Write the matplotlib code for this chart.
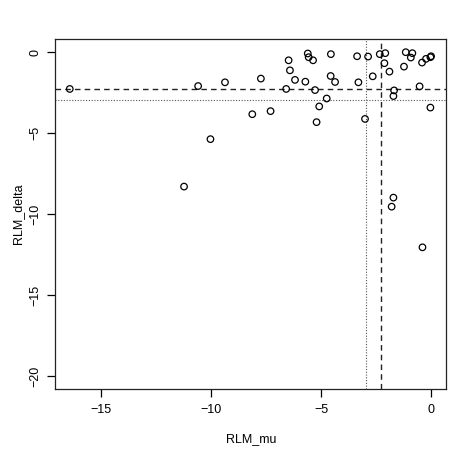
import numpy as np
import matplotlib
matplotlib.use("Agg")
import matplotlib.pyplot as plt

plt.rcParams['font.family'] = ['Liberation Sans', 'DejaVu Sans']

# RLM estimates
rlm_mu = [
    -16.41, -10.58, -9.36, -7.73, -8.12, -7.29, -10.02, -6.58, -6.47, -6.41,
    -6.18, -5.71, -5.60, -5.56, -5.36, -5.27, -5.08, -5.20, -4.74, -4.55,
    -4.56, -4.36, -3.36, -3.30, -2.86, -3.00, -2.65, -2.33, -2.08, -2.12,
    -1.89, -1.68, -1.71, -1.23, -1.15, -0.92, -0.85, -0.41, -0.23, -0.03,
    0.00, -0.52, -0.03, -11.22, -1.71, -1.79, -0.39,
]
rlm_delta = [
    -2.27, -2.09, -1.86, -1.63, -3.83, -3.64, -5.37, -2.27, -0.50, -1.12,
    -1.71, -1.82, -0.08, -0.31, -0.50, -2.34, -3.35, -4.32, -2.86, -0.12,
    -1.47, -1.84, -0.25, -1.86, -0.27, -4.12, -1.49, -0.12, -0.06, -0.68,
    -1.20, -2.36, -2.71, -0.89, 0.00, -0.33, -0.06, -0.64, -0.41, -0.31,
    -0.25, -2.11, -3.42, -8.30, -8.98, -9.54, -12.05,
]

# reference lines
mu_dashed, mu_dotted = -2.29, -2.97
delta_dashed, delta_dotted = -2.27, -2.98

x_ticks = [-15, -10, -5, 0]
y_ticks = [0, -5, -10, -15, -20]

fig = plt.figure(figsize=(4.74, 4.59), dpi=100)
ax = fig.add_axes([0.117, 0.1525, 0.824, 0.762])

ax.scatter(rlm_mu, rlm_delta, s=22, facecolors='none', edgecolors='black',
           linewidths=0.9, zorder=3)

ax.axhline(delta_dashed, color='#222222', linestyle=(0, (4, 3)), linewidth=1.0)
ax.axhline(delta_dotted, color='#555555', linestyle=(0, (1, 1.5)), linewidth=0.8)
ax.axvline(mu_dashed, color='#222222', linestyle=(0, (4, 3)), linewidth=1.0)
ax.axvline(mu_dotted, color='#555555', linestyle=(0, (1, 1.5)), linewidth=0.8)

ax.set_xlim(-17.06, 0.68)
ax.set_ylim(-20.8, 0.8)
ax.set_xticks(x_ticks)
ax.set_xticklabels(['\u221215', '\u221210', '\u22125', '0'])
ax.set_yticks(y_ticks)
ax.set_yticklabels(['0', '\u22125', '\u221210', '\u221215', '\u221220'],
                   rotation=90, va='center')

ax.tick_params(direction='out', length=6, width=0.9, labelsize=9, pad=4)
ax.tick_params(axis='x', pad=5)
for sp in ax.spines.values():
    sp.set_linewidth(0.9)
    sp.set_color('#222222')

ax.set_xlabel('RLM_mu', fontsize=9, labelpad=12)
ax.set_ylabel('RLM_delta', fontsize=9, labelpad=4)

fig.savefig('out.png', dpi=100)
